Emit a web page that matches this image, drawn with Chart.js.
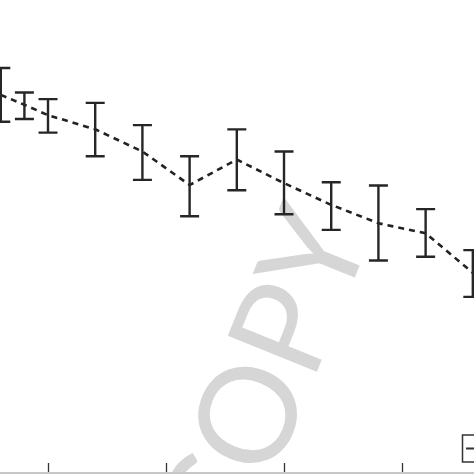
<!DOCTYPE html>
<html>
<head>
<meta charset="utf-8">
<script src="https://cdn.jsdelivr.net/npm/chart.js@4/dist/chart.umd.min.js"></script>
<style>
  html, body { margin: 0; padding: 0; background: #fff; overflow: hidden; }
  #wrap { width: 474px; height: 474px; }
</style>
</head>
<body>
<div id="wrap"><canvas id="chart" width="474" height="474"></canvas></div>
<script>
// values (arbitrary units)
const xValues = [-10, -5, 0, 10, 20, 30, 40, 50, 60, 70, 80, 90];
const meanValues = [79.9, 77.8, 75.6, 72.6, 67.9, 60.8, 66.2, 61.2, 56.6, 52.7, 50.6, 42.2];
const upperValues = [85.6, 80.4, 79.0, 78.2, 73.5, 66.9, 72.6, 67.9, 61.4, 60.7, 55.7, 47.0];
const lowerValues = [74.2, 74.8, 71.9, 66.9, 61.9, 54.2, 59.7, 54.6, 51.3, 44.8, 45.6, 37.1];
const xTicks = [0, 25, 50, 75];
const watermark = 'COPY';

const points = xValues.map((x, i) => ({ x: x, y: meanValues[i] }));

// error bars, axis and the bits of frame that show at the edges
const extras = {
  id: 'extras',
  beforeDatasetsDraw(chart) {
    const ctx = chart.ctx;
    ctx.save();
    ctx.fillStyle = '#d6d6d6';
    ctx.font = '400 134px Lato, "Open Sans", sans-serif';
    ctx.textAlign = 'center';
    ctx.textBaseline = 'middle';
    ctx.translate(266, 382);
    ctx.rotate(-68 * Math.PI / 180);
    ctx.fillText(watermark, 0, 0);
    ctx.restore();
  },
  afterDatasetsDraw(chart) {
    const ctx = chart.ctx;
    const xs = chart.scales.x;
    const ys = chart.scales.y;
    ctx.save();
    ctx.strokeStyle = '#262626';
    ctx.lineWidth = 2.4;
    xValues.forEach((x, i) => {
      const px = xs.getPixelForValue(x);
      const top = ys.getPixelForValue(upperValues[i]);
      const bot = ys.getPixelForValue(lowerValues[i]);
      ctx.beginPath();
      ctx.moveTo(px, top);
      ctx.lineTo(px, bot);
      ctx.moveTo(px - 9.5, top);
      ctx.lineTo(px + 9.5, top);
      ctx.moveTo(px - 9.5, bot);
      ctx.lineTo(px + 9.5, bot);
      ctx.stroke();
    });

    // bottom axis
    const axisY = ys.getPixelForValue(0);
    ctx.strokeStyle = '#c8c8c8';
    ctx.lineWidth = 3;
    ctx.beginPath();
    ctx.moveTo(0, axisY + 1.5);
    ctx.lineTo(474, axisY + 1.5);
    ctx.stroke();
    ctx.strokeStyle = '#333';
    ctx.lineWidth = 1.3;
    xTicks.forEach((t) => {
      const px = Math.round(xs.getPixelForValue(t)) + 0.5;
      ctx.beginPath();
      ctx.moveTo(px, axisY - 9);
      ctx.lineTo(px, axisY);
      ctx.stroke();
    });

    // legend frame, cut by the right edge
    ctx.strokeStyle = '#333';
    ctx.lineWidth = 1.5;
    ctx.strokeRect(462.5, 435, 30, 27);
    ctx.lineWidth = 2;
    ctx.beginPath();
    ctx.moveTo(466, 448.5);
    ctx.lineTo(474, 448.5);
    ctx.stroke();
    ctx.restore();
  }
};

const chart = new Chart(document.getElementById('chart'), {
  type: 'line',
  data: {
    datasets: [{
      data: points,
      borderColor: '#222',
      borderWidth: 2.6,
      borderDash: [6, 5],
      pointRadius: 0,
      fill: false,
      tension: 0
    }]
  },
  options: {
    responsive: false,
    animation: false,
    layout: { padding: 0 },
    plugins: {
      legend: { display: false },
      tooltip: { enabled: false }
    },
    scales: {
      x: { type: 'linear', display: false, min: -10.17, max: 90.25 },
      y: { type: 'linear', display: false, min: -0.4237, max: 100 }
    }
  },
  plugins: [extras]
});
</script>
</body>
</html>
